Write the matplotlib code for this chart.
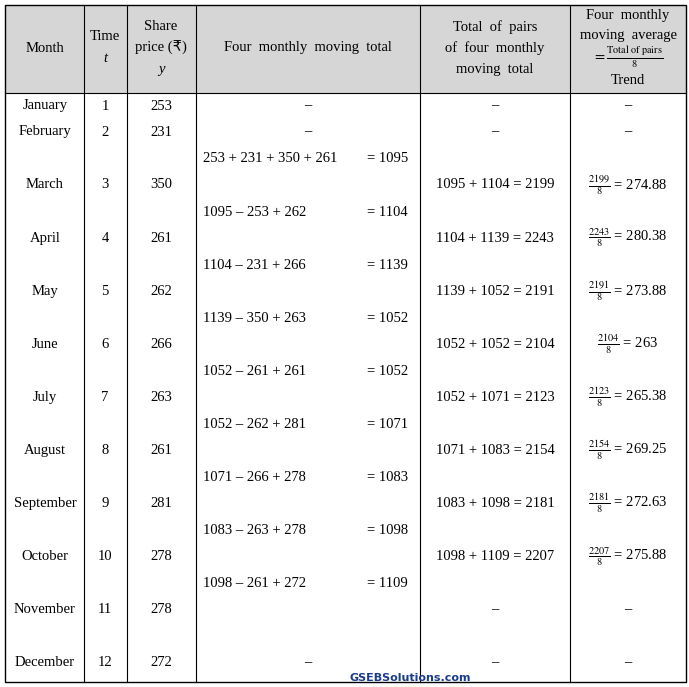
import matplotlib
matplotlib.use("Agg")
import matplotlib.pyplot as plt
from matplotlib.patches import Rectangle

plt.rcParams["font.family"] = ["Liberation Serif", "DejaVu Sans"]
plt.rcParams["mathtext.fontset"] = "stix"

# ---------------------------------------------------------------------------
# Data
# ---------------------------------------------------------------------------
months = ["January", "February", "March", "April", "May", "June", "July",
          "August", "September", "October", "November", "December"]
times = list(range(1, 13))
prices = [253, 231, 350, 261, 262, 266, 263, 261, 281, 278, 278, 272]
moving_totals = [1095, 1104, 1139, 1052, 1052, 1071, 1083, 1098, 1109]
moving_exprs = ["253 + 231 + 350 + 261", "1095 – 253 + 262", "1104 – 231 + 266",
                "1139 – 350 + 263", "1052 – 261 + 261", "1052 – 262 + 281",
                "1071 – 266 + 278", "1083 – 263 + 278", "1098 – 261 + 272"]
pair_totals = [2199, 2243, 2191, 2104, 2123, 2154, 2181, 2207]
trend_vals = ["274.88", "280.38", "273.88", "263", "265.38", "269.25",
              "272.63", "275.88"]

# ---------------------------------------------------------------------------
# Layout (pixel coordinates)
# ---------------------------------------------------------------------------
W, H = 689, 687
col_x = [5, 84, 127, 196, 420, 570, 686]
top, head_bot, bottom = 5, 93, 682
row_dy = 53.1
row_y = [106, 132] + [185 + k * row_dy for k in range(10)]

fig = plt.figure(figsize=(W / 100, H / 100), dpi=100)
ax = fig.add_axes([0, 0, 1, 1])
ax.set_xlim(0, W)
ax.set_ylim(H, 0)
ax.axis("off")

ax.add_patch(Rectangle((col_x[0], top), col_x[-1] - col_x[0], head_bot - top,
                       facecolor="#d6d6d6", edgecolor="none"))
ax.add_patch(Rectangle((col_x[0], top), col_x[-1] - col_x[0], bottom - top,
                       facecolor="none", edgecolor="black", lw=1))
for x in col_x[1:-1]:
    ax.plot([x, x], [top, bottom], color="black", lw=0.8)
ax.plot([col_x[0], col_x[-1]], [head_bot, head_bot], color="black", lw=0.8)

fs = 10.5
kw = dict(ha="center", va="center", fontsize=fs)
ax.text(45, 48, "Month", **kw)
ax.text(105, 37, "Time", **kw)
ax.text(105, 58, "t", style="italic", **kw)
ax.text(161, 26, "Share", **kw)
ax.text(161, 48, "price (₹)", **kw)
ax.text(161, 70, "y", style="italic", **kw)
ax.text(308, 48, "Four  monthly  moving  total", **kw)
ax.text(495, 27, "Total  of  pairs", **kw)
ax.text(495, 48, "of  four  monthly", **kw)
ax.text(495, 69, "moving  total", **kw)
ax.text(628, 16, "Four  monthly", **kw)
ax.text(628, 36, "moving  average", **kw)
ax.text(628, 57, r"$= \frac{\mathrm{Total\ of\ pairs}}{8}$", **kw)
ax.text(628, 81, "Trend", **kw)

for i, (m, t, p) in enumerate(zip(months, times, prices)):
    y = row_y[i]
    ax.text(45, y, m, **kw)
    ax.text(105, y, str(t), **kw)
    ax.text(161, y, str(p), **kw)
    if i < 2 or i >= 10:
        ax.text(495, y, "–", **kw)
        ax.text(628, y, "–", **kw)
        if i < 2:
            ax.text(308, y, "–", **kw)
    else:
        j = i - 2
        ax.text(495, y, f"{moving_totals[j]} + {moving_totals[j + 1]} = {pair_totals[j]}", **kw)
        ax.text(628, y, r"$\frac{%d}{8}$ = %s" % (pair_totals[j], trend_vals[j]), **kw)

for k, (e, v) in enumerate(zip(moving_exprs, moving_totals)):
    y = 159 + k * row_dy
    ax.text(203, y, e, ha="left", va="center", fontsize=fs)
    ax.text(408, y, f"= {v}", ha="right", va="center", fontsize=fs)

# trailing dashes in the moving total column
ax.text(308, row_y[11], "–", **kw)

ax.text(410, 678, "GSEBSolutions.com", ha="center", va="center", fontsize=8,
        color="#1a3c8c", fontweight="bold", family="DejaVu Sans")

fig.savefig("out.png", dpi=100)
